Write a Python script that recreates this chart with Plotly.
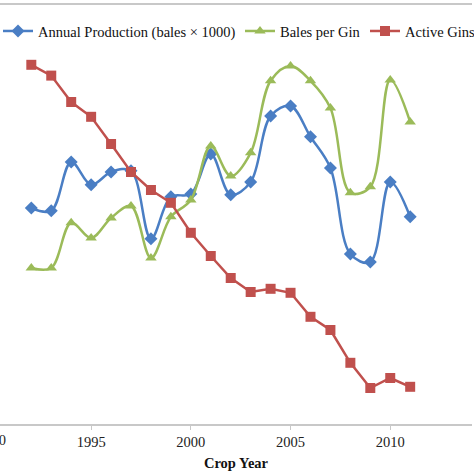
import plotly.graph_objects as go

years = list(range(1992, 2012))
annual_production = [54.0, 53.3, 65.5, 59.8, 63.0, 63.3, 46.3, 56.8, 57.5, 67.5,
                     57.3, 60.5, 77.0, 79.5, 71.8, 64.0, 42.5, 40.5, 60.5, 51.8]
bales_per_gin = [39.0, 39.0, 50.3, 46.5, 51.5, 54.5, 41.5, 51.8, 56.0, 69.5,
                 62.0, 67.8, 85.8, 89.5, 85.8, 79.0, 57.8, 59.3, 86.0, 75.5]
active_gins = [89.8, 87.1, 80.5, 76.8, 70.0, 63.0, 58.5, 55.3, 47.8, 42.0,
               36.5, 33.0, 33.8, 32.8, 26.8, 23.5, 15.3, 9.0, 11.5, 9.3]
tick_years = [1995, 2000, 2005, 2010, 2015]

x_range = [1990.43, 2014.1]
y_range = [0, 104.75]
plot_w = 472

font_family = "Liberation Serif, Times New Roman, serif"
fs = 14.5

fig = go.Figure()
fig.add_trace(go.Scatter(
    x=years, y=annual_production, name="Annual Production (bales × 1000)", legend="legend",
    mode="lines+markers", line=dict(color="#4A7EC4", width=2.5, shape="spline", smoothing=1),
    marker=dict(symbol="diamond", size=10, color="#4A7EC4")))
fig.add_trace(go.Scatter(
    x=years, y=bales_per_gin, name="Bales per Gin", legend="legend2",
    mode="lines+markers", line=dict(color="#9BBB59", width=2.5, shape="spline", smoothing=1),
    marker=dict(symbol="triangle-up", size=10, color="#9BBB59")))
fig.add_trace(go.Scatter(
    x=years, y=active_gins, name="Active Gins", legend="legend3",
    mode="lines+markers", line=dict(color="#C0504D", width=2.5),
    marker=dict(symbol="square", size=10, color="#C0504D")))

# first tick label, partly outside the visible area (as in the reference)
fig.add_annotation(
    x=(1990 - x_range[0]) / (x_range[1] - x_range[0]), xref="paper",
    y=0, yref="paper", yshift=-6, yanchor="top", xanchor="center",
    text="1990", showarrow=False, font=dict(family=font_family, size=fs, color="#222"))

def leg(xpx):
    return dict(orientation="h", x=xpx / plot_w, y=0.976, xanchor="left", yanchor="top",
                font=dict(family=font_family, size=fs, color="#111"),
                bgcolor="rgba(0,0,0,0)", itemwidth=30)

fig.update_layout(
    width=474, height=474,
    margin=dict(l=0, r=2, t=5, b=50, autoexpand=False),
    paper_bgcolor="white", plot_bgcolor="white",
    font=dict(family=font_family, size=fs, color="#222"),
    showlegend=True,
    legend=leg(-2), legend2=leg(240), legend3=leg(365),
    xaxis=dict(range=x_range, tickvals=tick_years, showgrid=False, zeroline=False,
               showline=True, linecolor="#C8C8C8", linewidth=1.5, mirror=True,
               ticks="outside", ticklen=4, tickcolor="#C8C8C8",
               tickfont=dict(family=font_family, size=fs, color="#222"),
               title=dict(text="<b>Crop Year</b>", standoff=9,
                          font=dict(family=font_family, size=fs, color="#111"))),
    yaxis=dict(range=y_range, showgrid=False, zeroline=False, showline=False,
               showticklabels=False, ticks=""),
)

fig.write_html("out.html")
